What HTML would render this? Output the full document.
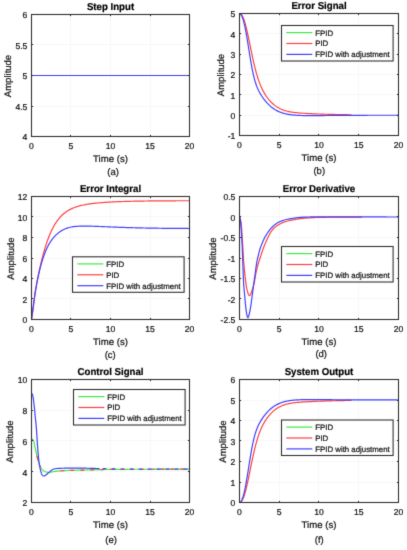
<!DOCTYPE html><html><head><meta charset="utf-8"><style>html,body{margin:0;padding:0;background:#fff}body{width:407px;height:550px;overflow:hidden}svg{display:block}text{font-family:'Liberation Sans', Arial, Helvetica, sans-serif;fill:#151515;stroke:#151515;stroke-width:0.22px;text-rendering:geometricPrecision}</style></head><body>
<div id="w">
<svg width="407" height="550" viewBox="0 0 407 550">
<defs><filter id="blr" x="0" y="0" width="407" height="550" filterUnits="userSpaceOnUse" color-interpolation-filters="sRGB"><feConvolveMatrix order="3" kernelMatrix="0.0121 0.0858 0.0121 0.0858 0.6084 0.0858 0.0121 0.0858 0.0121" divisor="1" edgeMode="duplicate"/></filter></defs>
<g filter="url(#blr)">
<rect width="407" height="550" fill="#fff"/>
<line x1="70.5" y1="15.0" x2="70.5" y2="136.0" stroke="#f7f7f7" stroke-width="1"/>
<line x1="110.5" y1="15.0" x2="110.5" y2="136.0" stroke="#f7f7f7" stroke-width="1"/>
<line x1="150.5" y1="15.0" x2="150.5" y2="136.0" stroke="#f7f7f7" stroke-width="1"/>
<line x1="32.0" y1="106.5" x2="189.0" y2="106.5" stroke="#f7f7f7" stroke-width="1"/>
<line x1="32.0" y1="75.5" x2="189.0" y2="75.5" stroke="#f7f7f7" stroke-width="1"/>
<line x1="32.0" y1="44.5" x2="189.0" y2="44.5" stroke="#f7f7f7" stroke-width="1"/>
<clipPath id="clipa"><rect x="31" y="14" width="159" height="123"/></clipPath>
<g clip-path="url(#clipa)" fill="none" stroke-width="1.2" stroke-linejoin="round" stroke-linecap="round">
<path d="M31.50,75.50 L189.50,75.50" stroke="#4040ff" />
</g>
<line x1="31.5" y1="136.5" x2="31.5" y2="134.9" stroke="#262626" stroke-width="1"/>
<line x1="31.5" y1="14.5" x2="31.5" y2="16.1" stroke="#262626" stroke-width="1"/>
<text x="31.50" y="148.80" font-size="8.6" text-anchor="middle">0</text>
<line x1="70.5" y1="136.5" x2="70.5" y2="134.9" stroke="#262626" stroke-width="1"/>
<line x1="70.5" y1="14.5" x2="70.5" y2="16.1" stroke="#262626" stroke-width="1"/>
<text x="71.00" y="148.80" font-size="8.6" text-anchor="middle">5</text>
<line x1="110.5" y1="136.5" x2="110.5" y2="134.9" stroke="#262626" stroke-width="1"/>
<line x1="110.5" y1="14.5" x2="110.5" y2="16.1" stroke="#262626" stroke-width="1"/>
<text x="110.50" y="148.80" font-size="8.6" text-anchor="middle">10</text>
<line x1="150.5" y1="136.5" x2="150.5" y2="134.9" stroke="#262626" stroke-width="1"/>
<line x1="150.5" y1="14.5" x2="150.5" y2="16.1" stroke="#262626" stroke-width="1"/>
<text x="150.00" y="148.80" font-size="8.6" text-anchor="middle">15</text>
<line x1="189.5" y1="136.5" x2="189.5" y2="134.9" stroke="#262626" stroke-width="1"/>
<line x1="189.5" y1="14.5" x2="189.5" y2="16.1" stroke="#262626" stroke-width="1"/>
<text x="189.50" y="148.80" font-size="8.6" text-anchor="middle">20</text>
<line x1="31.5" y1="136.5" x2="33.1" y2="136.5" stroke="#262626" stroke-width="1"/>
<line x1="189.5" y1="136.5" x2="187.9" y2="136.5" stroke="#262626" stroke-width="1"/>
<text x="27.40" y="140.40" font-size="8.6" text-anchor="end">4</text>
<line x1="31.5" y1="106.5" x2="33.1" y2="106.5" stroke="#262626" stroke-width="1"/>
<line x1="189.5" y1="106.5" x2="187.9" y2="106.5" stroke="#262626" stroke-width="1"/>
<text x="27.40" y="109.90" font-size="8.6" text-anchor="end">4.5</text>
<line x1="31.5" y1="75.5" x2="33.1" y2="75.5" stroke="#262626" stroke-width="1"/>
<line x1="189.5" y1="75.5" x2="187.9" y2="75.5" stroke="#262626" stroke-width="1"/>
<text x="27.40" y="79.40" font-size="8.6" text-anchor="end">5</text>
<line x1="31.5" y1="44.5" x2="33.1" y2="44.5" stroke="#262626" stroke-width="1"/>
<line x1="189.5" y1="44.5" x2="187.9" y2="44.5" stroke="#262626" stroke-width="1"/>
<text x="27.40" y="48.90" font-size="8.6" text-anchor="end">5.5</text>
<line x1="31.5" y1="14.5" x2="33.1" y2="14.5" stroke="#262626" stroke-width="1"/>
<line x1="189.5" y1="14.5" x2="187.9" y2="14.5" stroke="#262626" stroke-width="1"/>
<text x="27.40" y="18.40" font-size="8.6" text-anchor="end">6</text>
<rect x="31.5" y="14.5" width="158" height="122" fill="none" stroke="#323232" stroke-width="1.1"/>
<text transform="translate(110.50,10.40) scale(0.965,1)" font-size="10.0" font-weight="bold" text-anchor="middle" style="fill:#000;stroke:#000;stroke-width:0.2px">Step Input</text>
<text x="110.50" y="162.10" font-size="9.6" text-anchor="middle">Time (s)</text>
<text x="113.10" y="174.50" font-size="9.5" text-anchor="middle">(a)</text>
<text transform="translate(10.75,76.00) rotate(-90)" font-size="9.5" text-anchor="middle">Amplitude</text>
<line x1="279.5" y1="14.0" x2="279.5" y2="135.0" stroke="#f7f7f7" stroke-width="1"/>
<line x1="318.5" y1="14.0" x2="318.5" y2="135.0" stroke="#f7f7f7" stroke-width="1"/>
<line x1="358.5" y1="14.0" x2="358.5" y2="135.0" stroke="#f7f7f7" stroke-width="1"/>
<line x1="240.0" y1="115.5" x2="398.0" y2="115.5" stroke="#f7f7f7" stroke-width="1"/>
<line x1="240.0" y1="94.5" x2="398.0" y2="94.5" stroke="#f7f7f7" stroke-width="1"/>
<line x1="240.0" y1="74.5" x2="398.0" y2="74.5" stroke="#f7f7f7" stroke-width="1"/>
<line x1="240.0" y1="54.5" x2="398.0" y2="54.5" stroke="#f7f7f7" stroke-width="1"/>
<line x1="240.0" y1="33.5" x2="398.0" y2="33.5" stroke="#f7f7f7" stroke-width="1"/>
<clipPath id="clipb"><rect x="239" y="13" width="160" height="123"/></clipPath>
<g clip-path="url(#clipb)" fill="none" stroke-width="1.2" stroke-linejoin="round" stroke-linecap="round">
<path d="M239.50,13.50 L239.67,13.51 L239.84,13.53 L240.02,13.57 L240.19,13.63 L240.36,13.71 L240.53,13.80 L240.71,13.91 L240.88,14.04 L241.05,14.20 L241.22,14.36 L241.39,14.55 L241.57,14.76 L241.74,14.99 L241.91,15.24 L242.08,15.51 L242.26,15.79 L242.43,16.10 L242.60,16.43 L242.77,16.78 L242.95,17.14 L243.12,17.53 L243.29,17.93 L243.46,18.36 L243.63,18.80 L243.81,19.27 L243.98,19.75 L244.15,20.25 L244.32,20.76 L244.50,21.30 L244.67,21.85 L244.84,22.42 L245.01,23.00 L245.18,23.60 L245.36,24.22 L245.53,24.85 L245.70,25.50 L245.87,26.16 L246.05,26.84 L246.22,27.53 L246.39,28.23 L246.56,28.95 L246.74,29.67 L246.91,30.41 L247.08,31.16 L247.25,31.92 L247.42,32.69 L247.60,33.47 L247.77,34.25 L247.94,35.05 L248.11,35.85 L248.29,36.66 L248.46,37.47 L248.63,38.29 L248.80,39.12 L248.97,39.95 L249.15,40.78 L249.32,41.62 L249.49,42.46 L249.66,43.30 L249.84,44.15 L250.01,44.99 L250.18,45.84 L250.35,46.68 L250.53,47.53 L250.70,48.37 L250.87,49.21 L251.04,50.05 L251.21,50.89 L251.39,51.72 L251.56,52.55 L251.73,53.38 L251.90,54.21 L252.08,55.02 L252.25,55.84 L252.42,56.65 L252.59,57.45 L252.76,58.24 L252.94,59.03 L253.11,59.82 L253.28,60.59 L253.45,61.36 L253.63,62.12 L253.80,62.88 L253.97,63.62 L254.14,64.36 L254.32,65.09 L254.49,65.81 L254.66,66.52 L254.83,67.22 L255.00,67.92 L255.18,68.60 L255.35,69.28 L255.52,69.95 L255.69,70.60 L255.87,71.25 L256.04,71.89 L256.21,72.52 L256.38,73.14 L256.55,73.75 L256.73,74.35 L256.90,74.94 L257.07,75.53 L257.24,76.10 L257.42,76.67 L257.59,77.22 L257.76,77.77 L257.93,78.31 L258.11,78.83 L258.28,79.35 L258.45,79.87 L258.62,80.37 L258.79,80.86 L258.97,81.35 L259.14,81.83 L259.31,82.30 L259.48,82.76 L259.66,83.21 L259.83,83.66 L260.00,84.10 L260.20,84.60 L260.70,85.82 L261.21,86.98 L261.71,88.08 L262.22,89.14 L262.72,90.14 L263.22,91.11 L263.73,92.03 L264.23,92.91 L264.73,93.75 L265.24,94.57 L265.74,95.35 L266.25,96.10 L266.75,96.82 L267.25,97.51 L267.76,98.18 L268.26,98.83 L268.76,99.45 L269.27,100.05 L269.77,100.63 L270.28,101.19 L270.78,101.73 L271.28,102.25 L271.79,102.75 L272.29,103.23 L272.79,103.69 L273.30,104.14 L273.80,104.57 L274.31,104.98 L274.81,105.38 L275.31,105.76 L275.82,106.13 L276.32,106.48 L276.83,106.81 L277.33,107.14 L277.83,107.44 L278.34,107.74 L278.84,108.02 L279.34,108.29 L279.85,108.55 L280.35,108.80 L280.86,109.03 L281.36,109.26 L281.86,109.47 L282.37,109.68 L282.87,109.87 L283.37,110.06 L283.88,110.23 L284.38,110.40 L284.89,110.56 L285.39,110.71 L285.89,110.86 L286.40,110.99 L286.90,111.13 L287.41,111.25 L287.91,111.37 L288.41,111.48 L288.92,111.59 L289.42,111.69 L289.92,111.79 L290.43,111.88 L290.93,111.97 L291.44,112.05 L291.94,112.13 L292.44,112.21 L292.95,112.28 L293.45,112.35 L293.95,112.42 L294.46,112.48 L294.96,112.54 L295.47,112.60 L295.97,112.65 L296.47,112.71 L296.98,112.76 L297.48,112.81 L297.98,112.85 L298.49,112.90 L298.99,112.94 L299.50,112.98 L300.00,113.02 L301.00,113.10 L303.50,113.27 L306.00,113.42 L308.50,113.55 L311.00,113.67 L313.50,113.78 L316.00,113.89 L318.50,113.98 L321.00,114.07 L323.50,114.16 L326.00,114.24 L328.50,114.31 L331.00,114.38 L333.50,114.45 L336.00,114.51 L338.50,114.57 L341.00,114.62 L343.50,114.67 L346.00,114.72 L348.50,114.76 L351.00,114.80" stroke="#ff4040" />
<path d="M239.50,13.50 L239.67,13.54 L239.84,13.61 L240.02,13.71 L240.19,13.83 L240.36,13.98 L240.53,14.15 L240.71,14.34 L240.88,14.56 L241.05,14.80 L241.22,15.06 L241.39,15.35 L241.57,15.66 L241.74,16.00 L241.91,16.36 L242.08,16.74 L242.26,17.16 L242.43,17.59 L242.60,18.05 L242.77,18.54 L242.95,19.05 L243.12,19.59 L243.29,20.16 L243.46,20.75 L243.63,21.36 L243.81,22.01 L243.98,22.67 L244.15,23.36 L244.32,24.08 L244.50,24.82 L244.67,25.59 L244.84,26.38 L245.01,27.19 L245.18,28.02 L245.36,28.88 L245.53,29.76 L245.70,30.66 L245.87,31.57 L246.05,32.51 L246.22,33.46 L246.39,34.43 L246.56,35.42 L246.74,36.42 L246.91,37.43 L247.08,38.46 L247.25,39.50 L247.42,40.55 L247.60,41.61 L247.77,42.67 L247.94,43.75 L248.11,44.82 L248.29,45.91 L248.46,46.99 L248.63,48.08 L248.80,49.16 L248.97,50.25 L249.15,51.33 L249.32,52.42 L249.49,53.49 L249.66,54.56 L249.84,55.63 L250.01,56.69 L250.18,57.73 L250.35,58.77 L250.53,59.80 L250.70,60.82 L250.87,61.82 L251.04,62.81 L251.21,63.79 L251.39,64.76 L251.56,65.70 L251.73,66.64 L251.90,67.55 L252.08,68.45 L252.25,69.33 L252.42,70.20 L252.59,71.05 L252.76,71.88 L252.94,72.69 L253.11,73.48 L253.28,74.25 L253.45,75.01 L253.63,75.75 L253.80,76.47 L253.97,77.17 L254.14,77.86 L254.32,78.52 L254.49,79.17 L254.66,79.81 L254.83,80.42 L255.00,81.02 L255.18,81.61 L255.35,82.17 L255.52,82.73 L255.69,83.26 L255.87,83.79 L256.04,84.30 L256.21,84.79 L256.38,85.27 L256.55,85.74 L256.73,86.20 L256.90,86.65 L257.07,87.08 L257.24,87.51 L257.42,87.92 L257.59,88.33 L257.76,88.72 L257.93,89.11 L258.11,89.49 L258.28,89.86 L258.45,90.22 L258.62,90.57 L258.79,90.92 L258.97,91.26 L259.14,91.59 L259.31,91.92 L259.48,92.24 L259.66,92.56 L259.83,92.87 L260.00,93.17 L260.20,93.52 L260.70,94.37 L261.21,95.19 L261.71,95.98 L262.22,96.74 L262.72,97.47 L263.22,98.18 L263.73,98.87 L264.23,99.54 L264.73,100.18 L265.24,100.81 L265.74,101.42 L266.25,102.01 L266.75,102.58 L267.25,103.13 L267.76,103.66 L268.26,104.18 L268.76,104.68 L269.27,105.17 L269.77,105.63 L270.28,106.08 L270.78,106.52 L271.28,106.94 L271.79,107.34 L272.29,107.73 L272.79,108.11 L273.30,108.47 L273.80,108.81 L274.31,109.15 L274.81,109.47 L275.31,109.78 L275.82,110.07 L276.32,110.35 L276.83,110.62 L277.33,110.88 L277.83,111.13 L278.34,111.37 L278.84,111.60 L279.34,111.82 L279.85,112.02 L280.35,112.22 L280.86,112.41 L281.36,112.59 L281.86,112.77 L282.37,112.93 L282.87,113.09 L283.37,113.24 L283.88,113.38 L284.38,113.52 L284.89,113.64 L285.39,113.77 L285.89,113.88 L286.40,113.99 L286.90,114.10 L287.41,114.20 L287.91,114.29 L288.41,114.38 L288.92,114.46 L289.42,114.54 L289.92,114.62 L290.43,114.69 L290.93,114.75 L291.44,114.82 L291.94,114.87 L292.44,114.93 L292.95,114.98 L293.45,115.03 L293.95,115.08 L294.46,115.12 L294.96,115.16 L295.47,115.20 L295.97,115.24 L296.47,115.27 L296.98,115.30 L297.48,115.33 L297.98,115.36 L298.49,115.38 L298.99,115.40 L299.50,115.43 L300.00,115.45 L301.00,115.48 L303.50,115.55 L306.00,115.58 L308.50,115.60 L311.00,115.61 L313.50,115.61 L316.00,115.60 L318.50,115.58 L321.00,115.56 L323.50,115.54 L326.00,115.52 L328.50,115.50 L331.00,115.48 L333.50,115.46 L336.00,115.44 L338.50,115.42 L341.00,115.40 L343.50,115.39 L346.00,115.37 L348.50,115.36 L351.00,115.34 L353.50,115.33 L356.00,115.32 L358.50,115.31 L361.00,115.30 L363.50,115.29 L366.00,115.28 L368.50,115.27 L371.00,115.27 L373.50,115.26 L376.00,115.26 L378.50,115.25 L381.00,115.25 L383.50,115.24 L386.00,115.24 L388.50,115.23 L391.00,115.23 L393.50,115.23 L396.00,115.23 L398.50,115.22" stroke="#4040ff" />
</g>
<line x1="239.5" y1="135.5" x2="239.5" y2="133.9" stroke="#262626" stroke-width="1"/>
<line x1="239.5" y1="13.5" x2="239.5" y2="15.1" stroke="#262626" stroke-width="1"/>
<text x="239.50" y="147.80" font-size="8.6" text-anchor="middle">0</text>
<line x1="279.5" y1="135.5" x2="279.5" y2="133.9" stroke="#262626" stroke-width="1"/>
<line x1="279.5" y1="13.5" x2="279.5" y2="15.1" stroke="#262626" stroke-width="1"/>
<text x="279.25" y="147.80" font-size="8.6" text-anchor="middle">5</text>
<line x1="318.5" y1="135.5" x2="318.5" y2="133.9" stroke="#262626" stroke-width="1"/>
<line x1="318.5" y1="13.5" x2="318.5" y2="15.1" stroke="#262626" stroke-width="1"/>
<text x="319.00" y="147.80" font-size="8.6" text-anchor="middle">10</text>
<line x1="358.5" y1="135.5" x2="358.5" y2="133.9" stroke="#262626" stroke-width="1"/>
<line x1="358.5" y1="13.5" x2="358.5" y2="15.1" stroke="#262626" stroke-width="1"/>
<text x="358.75" y="147.80" font-size="8.6" text-anchor="middle">15</text>
<line x1="398.5" y1="135.5" x2="398.5" y2="133.9" stroke="#262626" stroke-width="1"/>
<line x1="398.5" y1="13.5" x2="398.5" y2="15.1" stroke="#262626" stroke-width="1"/>
<text x="398.50" y="147.80" font-size="8.6" text-anchor="middle">20</text>
<line x1="239.5" y1="135.5" x2="241.1" y2="135.5" stroke="#262626" stroke-width="1"/>
<line x1="398.5" y1="135.5" x2="396.9" y2="135.5" stroke="#262626" stroke-width="1"/>
<text x="235.40" y="139.40" font-size="8.6" text-anchor="end">-1</text>
<line x1="239.5" y1="115.5" x2="241.1" y2="115.5" stroke="#262626" stroke-width="1"/>
<line x1="398.5" y1="115.5" x2="396.9" y2="115.5" stroke="#262626" stroke-width="1"/>
<text x="235.40" y="119.07" font-size="8.6" text-anchor="end">0</text>
<line x1="239.5" y1="94.5" x2="241.1" y2="94.5" stroke="#262626" stroke-width="1"/>
<line x1="398.5" y1="94.5" x2="396.9" y2="94.5" stroke="#262626" stroke-width="1"/>
<text x="235.40" y="98.73" font-size="8.6" text-anchor="end">1</text>
<line x1="239.5" y1="74.5" x2="241.1" y2="74.5" stroke="#262626" stroke-width="1"/>
<line x1="398.5" y1="74.5" x2="396.9" y2="74.5" stroke="#262626" stroke-width="1"/>
<text x="235.40" y="78.40" font-size="8.6" text-anchor="end">2</text>
<line x1="239.5" y1="54.5" x2="241.1" y2="54.5" stroke="#262626" stroke-width="1"/>
<line x1="398.5" y1="54.5" x2="396.9" y2="54.5" stroke="#262626" stroke-width="1"/>
<text x="235.40" y="58.07" font-size="8.6" text-anchor="end">3</text>
<line x1="239.5" y1="33.5" x2="241.1" y2="33.5" stroke="#262626" stroke-width="1"/>
<line x1="398.5" y1="33.5" x2="396.9" y2="33.5" stroke="#262626" stroke-width="1"/>
<text x="235.40" y="37.73" font-size="8.6" text-anchor="end">4</text>
<line x1="239.5" y1="13.5" x2="241.1" y2="13.5" stroke="#262626" stroke-width="1"/>
<line x1="398.5" y1="13.5" x2="396.9" y2="13.5" stroke="#262626" stroke-width="1"/>
<text x="235.40" y="17.40" font-size="8.6" text-anchor="end">5</text>
<rect x="239.5" y="13.5" width="159" height="122" fill="none" stroke="#323232" stroke-width="1.1"/>
<text transform="translate(319.00,9.40) scale(0.965,1)" font-size="10.0" font-weight="bold" text-anchor="middle" style="fill:#000;stroke:#000;stroke-width:0.2px">Error Signal</text>
<text x="319.00" y="161.10" font-size="9.6" text-anchor="middle">Time (s)</text>
<text x="319.25" y="174.35" font-size="9.5" text-anchor="middle">(b)</text>
<text transform="translate(223.50,75.00) rotate(-90)" font-size="9.5" text-anchor="middle">Amplitude</text>
<rect x="281.5" y="25.5" width="111.6" height="35.5" fill="#fff" stroke="#323232" stroke-width="1.1"/>
<line x1="286.3" y1="32.60" x2="312.3" y2="32.60" stroke="#40ea40" stroke-width="1.2"/>
<text x="315.20" y="35.50" font-size="7.85">FPID</text>
<line x1="286.3" y1="43.50" x2="312.3" y2="43.50" stroke="#ff4040" stroke-width="1.2"/>
<text x="315.20" y="46.40" font-size="7.85">PID</text>
<line x1="286.3" y1="54.40" x2="312.3" y2="54.40" stroke="#4040ff" stroke-width="1.2"/>
<text x="315.20" y="57.30" font-size="7.85">FPID with adjustment</text>
<line x1="70.5" y1="197.0" x2="70.5" y2="319.0" stroke="#f7f7f7" stroke-width="1"/>
<line x1="110.5" y1="197.0" x2="110.5" y2="319.0" stroke="#f7f7f7" stroke-width="1"/>
<line x1="150.5" y1="197.0" x2="150.5" y2="319.0" stroke="#f7f7f7" stroke-width="1"/>
<line x1="32.0" y1="298.5" x2="189.0" y2="298.5" stroke="#f7f7f7" stroke-width="1"/>
<line x1="32.0" y1="278.5" x2="189.0" y2="278.5" stroke="#f7f7f7" stroke-width="1"/>
<line x1="32.0" y1="258.5" x2="189.0" y2="258.5" stroke="#f7f7f7" stroke-width="1"/>
<line x1="32.0" y1="237.5" x2="189.0" y2="237.5" stroke="#f7f7f7" stroke-width="1"/>
<line x1="32.0" y1="216.5" x2="189.0" y2="216.5" stroke="#f7f7f7" stroke-width="1"/>
<clipPath id="clipc"><rect x="31" y="196" width="159" height="124"/></clipPath>
<g clip-path="url(#clipc)" fill="none" stroke-width="1.2" stroke-linejoin="round" stroke-linecap="round">
<path d="M31.50,319.50 L31.69,318.26 L31.88,317.06 L32.07,315.86 L32.27,314.67 L32.46,313.46 L32.65,312.23 L32.84,310.96 L33.03,309.63 L33.22,308.23 L33.41,306.76 L33.60,305.21 L33.80,303.59 L33.99,301.90 L34.18,300.19 L34.37,298.47 L34.56,296.80 L34.75,295.19 L34.94,293.69 L35.13,292.29 L35.33,291.00 L35.52,289.80 L35.71,288.67 L35.90,287.59 L36.09,286.55 L36.28,285.52 L36.47,284.51 L36.66,283.51 L36.86,282.51 L37.05,281.53 L37.24,280.55 L37.43,279.58 L37.62,278.62 L37.81,277.67 L38.00,276.73 L38.19,275.79 L38.39,274.86 L38.58,273.95 L38.77,273.04 L38.96,272.14 L39.15,271.24 L39.34,270.36 L39.53,269.48 L39.72,268.62 L39.92,267.76 L40.11,266.91 L40.30,266.07 L40.49,265.24 L40.68,264.42 L40.87,263.60 L41.06,262.80 L41.26,262.00 L41.45,261.21 L41.64,260.43 L41.83,259.66 L42.02,258.89 L42.21,258.14 L42.40,257.39 L42.59,256.65 L42.79,255.93 L42.98,255.20 L43.17,254.49 L43.36,253.79 L43.55,253.09 L43.74,252.40 L43.93,251.72 L44.12,251.05 L44.32,250.38 L44.51,249.73 L44.70,249.08 L44.89,248.44 L45.08,247.80 L45.27,247.18 L45.46,246.56 L45.65,245.95 L45.85,245.35 L46.04,244.75 L46.23,244.17 L46.42,243.59 L46.61,243.01 L46.80,242.45 L46.99,241.89 L47.18,241.34 L47.38,240.79 L47.57,240.26 L47.76,239.73 L47.95,239.20 L48.14,238.69 L48.33,238.18 L48.52,237.67 L48.71,237.18 L48.91,236.69 L49.10,236.20 L49.29,235.73 L49.48,235.26 L49.67,234.79 L49.86,234.33 L50.05,233.88 L50.24,233.44 L50.44,233.00 L50.63,232.56 L50.82,232.13 L51.01,231.71 L51.20,231.29 L51.39,230.88 L51.58,230.48 L51.78,230.08 L51.97,229.69 L52.16,229.30 L52.35,228.91 L52.54,228.54 L52.73,228.16 L52.92,227.80 L53.11,227.43 L53.31,227.08 L53.50,226.72 L53.69,226.38 L53.88,226.03 L54.07,225.70 L54.26,225.36 L54.45,225.04 L54.64,224.71 L54.84,224.39 L55.03,224.08 L55.22,223.77 L55.41,223.46 L55.60,223.16 L55.79,222.86 L55.98,222.57 L56.17,222.28 L56.37,222.00 L56.56,221.72 L56.75,221.44 L56.94,221.17 L57.13,220.90 L57.32,220.64 L57.51,220.38 L57.70,220.12 L57.90,219.87 L58.09,219.62 L58.28,219.37 L58.47,219.13 L58.66,218.89 L58.85,218.66 L59.04,218.42 L59.23,218.19 L59.43,217.97 L59.62,217.75 L59.81,217.53 L60.00,217.31 L60.30,216.98 L61.30,215.93 L62.30,214.95 L63.30,214.05 L64.31,213.21 L65.31,212.44 L66.31,211.72 L67.31,211.05 L68.31,210.44 L69.31,209.86 L70.32,209.33 L71.32,208.84 L72.32,208.38 L73.32,207.96 L74.32,207.56 L75.32,207.19 L76.32,206.85 L77.33,206.53 L78.33,206.23 L79.33,205.95 L80.33,205.69 L81.33,205.45 L82.33,205.22 L83.34,205.00 L84.34,204.80 L85.34,204.61 L86.34,204.43 L87.34,204.26 L88.34,204.10 L89.34,203.95 L90.35,203.81 L91.35,203.68 L92.35,203.55 L93.35,203.43 L94.35,203.31 L95.35,203.20 L96.36,203.10 L97.36,203.00 L98.36,202.90 L99.36,202.81 L100.36,202.73 L101.36,202.64 L102.37,202.56 L103.37,202.49 L104.37,202.42 L105.37,202.35 L106.37,202.28 L107.37,202.22 L108.37,202.16 L109.38,202.10 L110.38,202.04 L111.38,201.99 L112.38,201.94 L113.38,201.89 L114.38,201.84 L115.39,201.79 L116.39,201.75 L117.39,201.71 L118.39,201.66 L119.39,201.63 L120.39,201.59 L121.39,201.55 L122.40,201.52 L123.40,201.48 L124.40,201.45 L125.40,201.42 L126.40,201.39 L127.40,201.36 L128.41,201.33 L129.41,201.31 L130.41,201.28 L131.41,201.26 L132.41,201.24 L133.41,201.21 L134.41,201.19 L135.42,201.17 L136.42,201.15 L137.42,201.13 L138.42,201.11 L139.42,201.10 L140.42,201.08 L141.43,201.06 L142.43,201.05 L143.43,201.03 L144.43,201.02 L145.43,201.00 L146.43,200.99 L147.43,200.98 L148.44,200.97 L149.44,200.95 L150.44,200.94 L151.44,200.93 L152.44,200.92 L153.44,200.91 L154.45,200.90 L155.45,200.89 L156.45,200.89 L157.45,200.88 L158.45,200.87 L159.45,200.86 L160.46,200.86 L161.46,200.85 L162.46,200.84 L163.46,200.84 L164.46,200.83 L165.46,200.82 L166.46,200.82 L167.47,200.81 L168.47,200.81 L169.47,200.80 L170.47,200.80 L171.47,200.79 L172.47,200.79 L173.48,200.79 L174.48,200.78 L175.48,200.78 L176.48,200.77 L177.48,200.77 L178.48,200.77 L179.48,200.76 L180.49,200.76 L181.49,200.76 L182.49,200.76 L183.49,200.75 L184.49,200.75 L185.49,200.75 L186.50,200.75 L187.50,200.74 L188.50,200.74 L189.50,200.74" stroke="#ff4040" />
<path d="M31.50,319.50 L31.69,318.04 L31.88,316.53 L32.07,315.03 L32.27,313.54 L32.46,312.06 L32.65,310.60 L32.84,309.16 L33.03,307.74 L33.22,306.33 L33.41,304.95 L33.60,303.58 L33.80,302.24 L33.99,300.92 L34.18,299.61 L34.37,298.33 L34.56,297.07 L34.75,295.82 L34.94,294.60 L35.13,293.40 L35.33,292.22 L35.52,291.05 L35.71,289.91 L35.90,288.78 L36.09,287.67 L36.28,286.59 L36.47,285.52 L36.66,284.46 L36.86,283.43 L37.05,282.41 L37.24,281.41 L37.43,280.43 L37.62,279.47 L37.81,278.52 L38.00,277.59 L38.19,276.67 L38.39,275.77 L38.58,274.88 L38.77,274.01 L38.96,273.16 L39.15,272.32 L39.34,271.49 L39.53,270.68 L39.72,269.89 L39.92,269.10 L40.11,268.33 L40.30,267.58 L40.49,266.84 L40.68,266.11 L40.87,265.39 L41.06,264.69 L41.26,264.00 L41.45,263.32 L41.64,262.65 L41.83,261.99 L42.02,261.35 L42.21,260.72 L42.40,260.09 L42.59,259.48 L42.79,258.88 L42.98,258.29 L43.17,257.71 L43.36,257.15 L43.55,256.59 L43.74,256.04 L43.93,255.50 L44.12,254.97 L44.32,254.45 L44.51,253.94 L44.70,253.43 L44.89,252.94 L45.08,252.45 L45.27,251.98 L45.46,251.51 L45.65,251.05 L45.85,250.60 L46.04,250.15 L46.23,249.72 L46.42,249.29 L46.61,248.87 L46.80,248.45 L46.99,248.04 L47.18,247.64 L47.38,247.25 L47.57,246.87 L47.76,246.49 L47.95,246.11 L48.14,245.75 L48.33,245.39 L48.52,245.03 L48.71,244.68 L48.91,244.34 L49.10,244.01 L49.29,243.68 L49.48,243.35 L49.67,243.03 L49.86,242.72 L50.05,242.41 L50.24,242.10 L50.44,241.81 L50.63,241.51 L50.82,241.22 L51.01,240.94 L51.20,240.66 L51.39,240.39 L51.58,240.12 L51.78,239.85 L51.97,239.59 L52.16,239.33 L52.35,239.08 L52.54,238.83 L52.73,238.59 L52.92,238.35 L53.11,238.11 L53.31,237.88 L53.50,237.65 L53.69,237.43 L53.88,237.20 L54.07,236.99 L54.26,236.77 L54.45,236.56 L54.64,236.35 L54.84,236.15 L55.03,235.95 L55.22,235.75 L55.41,235.56 L55.60,235.36 L55.79,235.18 L55.98,234.99 L56.17,234.81 L56.37,234.63 L56.56,234.45 L56.75,234.28 L56.94,234.10 L57.13,233.94 L57.32,233.77 L57.51,233.61 L57.70,233.45 L57.90,233.29 L58.09,233.13 L58.28,232.98 L58.47,232.83 L58.66,232.68 L58.85,232.53 L59.04,232.39 L59.23,232.25 L59.43,232.11 L59.62,231.97 L59.81,231.84 L60.00,231.70 L60.30,231.50 L61.30,230.86 L62.30,230.27 L63.30,229.74 L64.31,229.25 L65.31,228.81 L66.31,228.42 L67.31,228.07 L68.31,227.75 L69.31,227.48 L70.32,227.24 L71.32,227.03 L72.32,226.85 L73.32,226.70 L74.32,226.57 L75.32,226.46 L76.32,226.37 L77.33,226.29 L78.33,226.23 L79.33,226.19 L80.33,226.15 L81.33,226.12 L82.33,226.11 L83.34,226.10 L84.34,226.09 L85.34,226.09 L86.34,226.10 L87.34,226.11 L88.34,226.13 L89.34,226.15 L90.35,226.17 L91.35,226.20 L92.35,226.23 L93.35,226.26 L94.35,226.29 L95.35,226.33 L96.36,226.36 L97.36,226.40 L98.36,226.44 L99.36,226.48 L100.36,226.52 L101.36,226.56 L102.37,226.60 L103.37,226.64 L104.37,226.69 L105.37,226.73 L106.37,226.77 L107.37,226.81 L108.37,226.86 L109.38,226.90 L110.38,226.94 L111.38,226.98 L112.38,227.02 L113.38,227.06 L114.38,227.10 L115.39,227.14 L116.39,227.18 L117.39,227.22 L118.39,227.26 L119.39,227.29 L120.39,227.33 L121.39,227.37 L122.40,227.40 L123.40,227.44 L124.40,227.47 L125.40,227.50 L126.40,227.53 L127.40,227.57 L128.41,227.60 L129.41,227.63 L130.41,227.66 L131.41,227.69 L132.41,227.71 L133.41,227.74 L134.41,227.77 L135.42,227.79 L136.42,227.82 L137.42,227.84 L138.42,227.87 L139.42,227.89 L140.42,227.92 L141.43,227.94 L142.43,227.96 L143.43,227.98 L144.43,228.00 L145.43,228.02 L146.43,228.04 L147.43,228.06 L148.44,228.08 L149.44,228.09 L150.44,228.11 L151.44,228.13 L152.44,228.14 L153.44,228.16 L154.45,228.18 L155.45,228.19 L156.45,228.20 L157.45,228.22 L158.45,228.23 L159.45,228.24 L160.46,228.26 L161.46,228.27 L162.46,228.28 L163.46,228.29 L164.46,228.30 L165.46,228.31 L166.46,228.32 L167.47,228.33 L168.47,228.34 L169.47,228.35 L170.47,228.36 L171.47,228.37 L172.47,228.38 L173.48,228.39 L174.48,228.39 L175.48,228.40 L176.48,228.41 L177.48,228.42 L178.48,228.42 L179.48,228.43 L180.49,228.44 L181.49,228.44 L182.49,228.45 L183.49,228.45 L184.49,228.46 L185.49,228.46 L186.50,228.47 L187.50,228.47 L188.50,228.48 L189.50,228.48" stroke="#4040ff" />
</g>
<line x1="31.5" y1="319.5" x2="31.5" y2="317.9" stroke="#262626" stroke-width="1"/>
<line x1="31.5" y1="196.5" x2="31.5" y2="198.1" stroke="#262626" stroke-width="1"/>
<text x="31.50" y="331.80" font-size="8.6" text-anchor="middle">0</text>
<line x1="70.5" y1="319.5" x2="70.5" y2="317.9" stroke="#262626" stroke-width="1"/>
<line x1="70.5" y1="196.5" x2="70.5" y2="198.1" stroke="#262626" stroke-width="1"/>
<text x="71.00" y="331.80" font-size="8.6" text-anchor="middle">5</text>
<line x1="110.5" y1="319.5" x2="110.5" y2="317.9" stroke="#262626" stroke-width="1"/>
<line x1="110.5" y1="196.5" x2="110.5" y2="198.1" stroke="#262626" stroke-width="1"/>
<text x="110.50" y="331.80" font-size="8.6" text-anchor="middle">10</text>
<line x1="150.5" y1="319.5" x2="150.5" y2="317.9" stroke="#262626" stroke-width="1"/>
<line x1="150.5" y1="196.5" x2="150.5" y2="198.1" stroke="#262626" stroke-width="1"/>
<text x="150.00" y="331.80" font-size="8.6" text-anchor="middle">15</text>
<line x1="189.5" y1="319.5" x2="189.5" y2="317.9" stroke="#262626" stroke-width="1"/>
<line x1="189.5" y1="196.5" x2="189.5" y2="198.1" stroke="#262626" stroke-width="1"/>
<text x="189.50" y="331.80" font-size="8.6" text-anchor="middle">20</text>
<line x1="31.5" y1="319.5" x2="33.1" y2="319.5" stroke="#262626" stroke-width="1"/>
<line x1="189.5" y1="319.5" x2="187.9" y2="319.5" stroke="#262626" stroke-width="1"/>
<text x="27.40" y="323.40" font-size="8.6" text-anchor="end">0</text>
<line x1="31.5" y1="298.5" x2="33.1" y2="298.5" stroke="#262626" stroke-width="1"/>
<line x1="189.5" y1="298.5" x2="187.9" y2="298.5" stroke="#262626" stroke-width="1"/>
<text x="27.40" y="302.90" font-size="8.6" text-anchor="end">2</text>
<line x1="31.5" y1="278.5" x2="33.1" y2="278.5" stroke="#262626" stroke-width="1"/>
<line x1="189.5" y1="278.5" x2="187.9" y2="278.5" stroke="#262626" stroke-width="1"/>
<text x="27.40" y="282.40" font-size="8.6" text-anchor="end">4</text>
<line x1="31.5" y1="258.5" x2="33.1" y2="258.5" stroke="#262626" stroke-width="1"/>
<line x1="189.5" y1="258.5" x2="187.9" y2="258.5" stroke="#262626" stroke-width="1"/>
<text x="27.40" y="261.90" font-size="8.6" text-anchor="end">6</text>
<line x1="31.5" y1="237.5" x2="33.1" y2="237.5" stroke="#262626" stroke-width="1"/>
<line x1="189.5" y1="237.5" x2="187.9" y2="237.5" stroke="#262626" stroke-width="1"/>
<text x="27.40" y="241.40" font-size="8.6" text-anchor="end">8</text>
<line x1="31.5" y1="216.5" x2="33.1" y2="216.5" stroke="#262626" stroke-width="1"/>
<line x1="189.5" y1="216.5" x2="187.9" y2="216.5" stroke="#262626" stroke-width="1"/>
<text x="27.40" y="220.90" font-size="8.6" text-anchor="end">10</text>
<line x1="31.5" y1="196.5" x2="33.1" y2="196.5" stroke="#262626" stroke-width="1"/>
<line x1="189.5" y1="196.5" x2="187.9" y2="196.5" stroke="#262626" stroke-width="1"/>
<text x="27.40" y="200.40" font-size="8.6" text-anchor="end">12</text>
<rect x="31.5" y="196.5" width="158" height="123" fill="none" stroke="#323232" stroke-width="1.1"/>
<text transform="translate(110.50,192.40) scale(0.965,1)" font-size="10.0" font-weight="bold" text-anchor="middle" style="fill:#000;stroke:#000;stroke-width:0.2px">Error Integral</text>
<text x="110.50" y="345.10" font-size="9.6" text-anchor="middle">Time (s)</text>
<text x="110.20" y="357.60" font-size="9.5" text-anchor="middle">(c)</text>
<text transform="translate(13.60,258.50) rotate(-90)" font-size="9.5" text-anchor="middle">Amplitude</text>
<rect x="72.5" y="256.8" width="111.6" height="35.5" fill="#fff" stroke="#323232" stroke-width="1.1"/>
<line x1="77.3" y1="263.90" x2="103.3" y2="263.90" stroke="#40ea40" stroke-width="1.2"/>
<text x="106.20" y="266.80" font-size="7.85">FPID</text>
<line x1="77.3" y1="274.80" x2="103.3" y2="274.80" stroke="#ff4040" stroke-width="1.2"/>
<text x="106.20" y="277.70" font-size="7.85">PID</text>
<line x1="77.3" y1="285.70" x2="103.3" y2="285.70" stroke="#4040ff" stroke-width="1.2"/>
<text x="106.20" y="288.60" font-size="7.85">FPID with adjustment</text>
<line x1="279.5" y1="197.0" x2="279.5" y2="319.0" stroke="#f7f7f7" stroke-width="1"/>
<line x1="318.5" y1="197.0" x2="318.5" y2="319.0" stroke="#f7f7f7" stroke-width="1"/>
<line x1="358.5" y1="197.0" x2="358.5" y2="319.0" stroke="#f7f7f7" stroke-width="1"/>
<line x1="240.0" y1="298.5" x2="398.0" y2="298.5" stroke="#f7f7f7" stroke-width="1"/>
<line x1="240.0" y1="278.5" x2="398.0" y2="278.5" stroke="#f7f7f7" stroke-width="1"/>
<line x1="240.0" y1="258.5" x2="398.0" y2="258.5" stroke="#f7f7f7" stroke-width="1"/>
<line x1="240.0" y1="237.5" x2="398.0" y2="237.5" stroke="#f7f7f7" stroke-width="1"/>
<line x1="240.0" y1="216.5" x2="398.0" y2="216.5" stroke="#f7f7f7" stroke-width="1"/>
<clipPath id="clipd"><rect x="239" y="196" width="160" height="124"/></clipPath>
<g clip-path="url(#clipd)" fill="none" stroke-width="1.2" stroke-linejoin="round" stroke-linecap="round">
<path d="M239.50,217.00 L239.93,217.92 L240.21,218.85 L240.46,219.82 L240.66,220.80 L240.83,221.78 L240.98,222.77 L241.12,223.76 L241.24,224.75 L241.35,225.75 L241.46,226.74 L241.55,227.74 L241.64,228.73 L241.71,229.73 L241.78,230.73 L241.84,231.73 L241.90,232.73 L241.96,233.72 L242.02,234.72 L242.08,235.72 L242.14,236.72 L242.21,237.72 L242.27,238.71 L242.34,239.71 L242.41,240.71 L242.47,241.71 L242.54,242.71 L242.61,243.70 L242.67,244.70 L242.74,245.70 L242.80,246.70 L242.86,247.69 L242.92,248.69 L242.98,249.69 L243.04,250.69 L243.09,251.69 L243.14,252.69 L243.19,253.69 L243.24,254.68 L243.28,255.68 L243.33,256.68 L243.38,257.68 L243.43,258.68 L243.49,259.68 L243.55,260.68 L243.62,261.67 L243.70,262.67 L243.79,263.67 L243.88,264.66 L243.99,265.66 L244.09,266.65 L244.20,267.65 L244.30,268.64 L244.40,269.64 L244.50,270.63 L244.59,271.63 L244.69,272.62 L244.79,273.62 L244.89,274.61 L245.00,275.61 L245.11,276.60 L245.22,277.59 L245.33,278.59 L245.45,279.58 L245.57,280.57 L245.69,281.56 L245.83,282.56 L245.96,283.55 L246.10,284.54 L246.24,285.53 L246.39,286.52 L246.55,287.50 L246.73,288.49 L246.94,289.46 L247.18,290.43 L247.44,291.40 L247.73,292.36 L248.02,293.31 L248.34,294.25 L248.76,295.10 L249.31,295.59 L249.93,295.40 L250.44,294.68 L250.84,293.78 L251.18,292.84 L251.51,291.90 L251.84,290.95 L252.15,290.00 L252.45,289.05 L252.75,288.10 L253.04,287.14 L253.33,286.18 L253.60,285.22 L253.86,284.25 L254.10,283.28 L254.32,282.31 L254.52,281.33 L254.70,280.35 L254.86,279.36 L255.02,278.37 L255.17,277.38 L255.33,276.40 L255.50,275.41 L255.69,274.43 L255.89,273.45 L256.09,272.47 L256.30,271.49 L256.52,270.52 L256.74,269.54 L256.97,268.57 L257.21,267.60 L257.46,266.63 L257.72,265.66 L257.99,264.70 L258.27,263.74 L258.57,262.78 L258.87,261.83 L259.17,260.88 L259.47,259.93 L259.78,258.97 L260.09,258.02 L260.40,257.07 L260.70,256.12 L261.01,255.17 L261.31,254.21 L261.62,253.26 L261.93,252.31 L262.25,251.36 L262.57,250.42 L262.90,249.47 L263.24,248.53 L263.58,247.59 L263.94,246.66 L264.32,245.73 L264.70,244.81 L265.08,243.89 L265.47,242.97 L265.87,242.05 L266.27,241.13 L266.68,240.22 L267.09,239.31 L267.51,238.40 L267.94,237.49 L268.37,236.59 L268.80,235.69 L269.26,234.80 L269.73,233.92 L270.23,233.05 L270.74,232.20 L271.28,231.35 L271.85,230.54 L272.47,229.75 L273.14,229.01 L273.84,228.29 L274.56,227.61 L275.32,226.96 L276.10,226.34 L276.91,225.75 L277.74,225.19 L278.59,224.66 L279.45,224.16 L280.34,223.69 L281.24,223.26 L282.15,222.85 L283.08,222.47 L284.01,222.12 L284.96,221.79 L285.91,221.49 L286.87,221.22 L287.84,220.97 L288.81,220.74 L289.79,220.53 L290.77,220.33 L291.75,220.13 L292.73,219.94 L293.71,219.76 L294.70,219.58 L295.68,219.41 L296.67,219.25 L297.66,219.10 L298.65,218.95 L299.64,218.81 L300.63,218.67 L301.62,218.53 L302.61,218.41 L303.61,218.31 L304.60,218.21 L305.60,218.13 L306.59,218.05 L307.59,217.98 L308.59,217.91 L309.59,217.84 L310.59,217.78 L311.58,217.72 L312.58,217.67 L313.58,217.61 L314.58,217.57 L315.58,217.52 L316.58,217.49 L317.58,217.45 L318.58,217.42 L319.58,217.40 L320.58,217.38 L321.58,217.36 L322.58,217.34 L323.58,217.32 L324.58,217.30 L325.58,217.28 L326.58,217.27 L327.57,217.25 L328.57,217.23 L329.57,217.22 L330.57,217.20 L331.57,217.19 L332.57,217.18 L333.57,217.16 L334.57,217.15 L335.57,217.14 L336.57,217.13 L337.57,217.12 L338.57,217.11 L339.57,217.10 L340.57,217.09 L341.57,217.08 L342.57,217.08 L343.57,217.07 L344.57,217.07 L345.57,217.06 L346.57,217.06 L347.57,217.05 L348.57,217.05 L349.57,217.05 L350.57,217.05 L351.57,217.04 L352.57,217.04 L353.57,217.04 L354.57,217.04 L355.57,217.04 L356.57,217.04 L357.57,217.03 L358.57,217.03 L359.57,217.03 L360.57,217.03 L361.57,217.03" stroke="#ff4040" />
<path d="M239.50,217.00 L239.91,217.89 L240.15,218.84 L240.34,219.82 L240.49,220.81 L240.60,221.81 L240.70,222.80 L240.79,223.80 L240.87,224.79 L240.95,225.79 L241.03,226.79 L241.11,227.78 L241.18,228.78 L241.25,229.78 L241.31,230.78 L241.37,231.78 L241.43,232.77 L241.49,233.77 L241.54,234.77 L241.60,235.77 L241.65,236.77 L241.71,237.77 L241.77,238.76 L241.82,239.76 L241.88,240.76 L241.94,241.76 L241.99,242.76 L242.04,243.76 L242.10,244.76 L242.15,245.75 L242.20,246.75 L242.25,247.75 L242.29,248.75 L242.34,249.75 L242.38,250.75 L242.42,251.75 L242.46,252.75 L242.50,253.75 L242.53,254.75 L242.57,255.75 L242.60,256.74 L242.64,257.74 L242.67,258.74 L242.71,259.74 L242.74,260.74 L242.78,261.74 L242.81,262.74 L242.85,263.74 L242.88,264.74 L242.92,265.74 L242.96,266.74 L242.99,267.74 L243.03,268.74 L243.06,269.74 L243.10,270.74 L243.14,271.74 L243.17,272.73 L243.21,273.73 L243.25,274.73 L243.29,275.73 L243.33,276.73 L243.37,277.73 L243.41,278.73 L243.45,279.73 L243.49,280.73 L243.53,281.73 L243.58,282.73 L243.64,283.72 L243.70,284.72 L243.77,285.72 L243.85,286.72 L243.94,287.71 L244.03,288.71 L244.13,289.70 L244.22,290.70 L244.31,291.70 L244.40,292.69 L244.49,293.69 L244.58,294.68 L244.68,295.68 L244.77,296.67 L244.86,297.67 L244.95,298.67 L245.04,299.66 L245.12,300.66 L245.21,301.66 L245.30,302.65 L245.39,303.65 L245.49,304.64 L245.59,305.64 L245.69,306.63 L245.81,307.62 L245.93,308.62 L246.05,309.61 L246.19,310.60 L246.33,311.59 L246.48,312.58 L246.65,313.56 L246.83,314.55 L247.04,315.53 L247.28,316.49 L247.58,317.38 L247.97,317.72 L248.35,317.14 L248.65,316.22 L248.92,315.25 L249.17,314.28 L249.40,313.31 L249.61,312.34 L249.82,311.36 L250.03,310.38 L250.22,309.40 L250.40,308.41 L250.57,307.43 L250.74,306.44 L250.89,305.46 L251.04,304.47 L251.18,303.48 L251.31,302.48 L251.44,301.49 L251.57,300.50 L251.70,299.51 L251.83,298.52 L251.96,297.53 L252.10,296.54 L252.23,295.54 L252.36,294.55 L252.49,293.56 L252.62,292.57 L252.75,291.58 L252.88,290.59 L253.01,289.60 L253.14,288.60 L253.27,287.61 L253.40,286.62 L253.52,285.63 L253.65,284.64 L253.78,283.65 L253.91,282.65 L254.05,281.66 L254.19,280.67 L254.33,279.68 L254.47,278.69 L254.62,277.70 L254.76,276.71 L254.90,275.72 L255.04,274.73 L255.17,273.74 L255.30,272.75 L255.43,271.76 L255.55,270.77 L255.68,269.78 L255.80,268.78 L255.94,267.79 L256.07,266.80 L256.22,265.81 L256.36,264.82 L256.52,263.83 L256.68,262.85 L256.86,261.86 L257.05,260.88 L257.27,259.91 L257.50,258.93 L257.74,257.96 L257.96,256.99 L258.18,256.01 L258.40,255.04 L258.62,254.06 L258.86,253.09 L259.11,252.12 L259.37,251.16 L259.65,250.20 L259.94,249.24 L260.24,248.29 L260.56,247.34 L260.90,246.40 L261.26,245.47 L261.63,244.54 L262.01,243.61 L262.39,242.69 L262.78,241.77 L263.17,240.85 L263.58,239.93 L264.00,239.03 L264.44,238.13 L264.90,237.24 L265.39,236.37 L265.89,235.50 L266.40,234.64 L266.93,233.80 L267.48,232.96 L268.04,232.13 L268.62,231.31 L269.22,230.52 L269.84,229.74 L270.49,228.97 L271.15,228.22 L271.82,227.48 L272.52,226.76 L273.23,226.07 L273.98,225.40 L274.76,224.77 L275.56,224.18 L276.38,223.61 L277.23,223.08 L278.09,222.58 L278.98,222.11 L279.88,221.68 L280.80,221.29 L281.73,220.92 L282.67,220.58 L283.62,220.27 L284.58,219.99 L285.54,219.73 L286.52,219.50 L287.49,219.28 L288.47,219.08 L289.45,218.89 L290.44,218.71 L291.42,218.54 L292.41,218.38 L293.40,218.23 L294.39,218.09 L295.38,217.95 L296.37,217.81 L297.36,217.69 L298.35,217.57 L299.35,217.46 L300.34,217.37 L301.34,217.29 L302.34,217.22 L303.34,217.16 L304.34,217.12 L305.34,217.08 L306.34,217.05 L307.33,217.03 L308.33,217.00 L309.33,216.98 L310.33,216.96 L311.33,216.93 L312.33,216.92 L313.33,216.90 L314.33,216.89 L315.33,216.87 L316.33,216.86 L317.33,216.86 L318.33,216.85 L319.33,216.85 L320.33,216.85 L321.33,216.85 L322.33,216.85 L323.33,216.85 L324.33,216.85 L325.33,216.85 L326.33,216.85 L327.33,216.86 L328.33,216.86 L329.33,216.86 L330.33,216.86 L331.33,216.86 L332.33,216.86 L333.33,216.87 L334.33,216.87 L335.33,216.87 L336.33,216.87 L337.33,216.87 L338.33,216.88 L339.33,216.88 L340.33,216.88 L341.33,216.88 L342.33,216.89 L343.33,216.89 L344.33,216.89 L345.33,216.89 L346.33,216.89 L347.33,216.90 L348.33,216.90 L349.33,216.90 L350.33,216.90 L351.33,216.90 L352.33,216.91 L353.33,216.91 L354.33,216.91 L355.33,216.91 L356.33,216.91 L357.33,216.92 L358.33,216.92 L359.33,216.92 L360.33,216.92 L361.33,216.92 L362.33,216.93 L363.33,216.93 L364.33,216.93 L365.33,216.93 L366.33,216.93 L367.33,216.93 L368.33,216.94 L369.33,216.94 L370.33,216.94 L371.33,216.94 L372.33,216.94 L373.33,216.95 L374.33,216.95 L375.33,216.95 L376.33,216.95 L377.33,216.95 L378.33,216.96 L379.33,216.96 L380.33,216.96 L381.33,216.96 L382.33,216.97 L383.33,216.97 L384.33,216.97 L385.33,216.97 L386.33,216.97 L387.33,216.98 L388.33,216.98 L389.33,216.98 L390.33,216.98 L391.33,216.98 L392.33,216.99 L393.33,216.99 L394.33,216.99 L395.33,216.99 L396.33,217.00 L397.31,217.00 L398.06,217.00" stroke="#4040ff" />
</g>
<line x1="239.5" y1="319.5" x2="239.5" y2="317.9" stroke="#262626" stroke-width="1"/>
<line x1="239.5" y1="196.5" x2="239.5" y2="198.1" stroke="#262626" stroke-width="1"/>
<text x="239.50" y="331.80" font-size="8.6" text-anchor="middle">0</text>
<line x1="279.5" y1="319.5" x2="279.5" y2="317.9" stroke="#262626" stroke-width="1"/>
<line x1="279.5" y1="196.5" x2="279.5" y2="198.1" stroke="#262626" stroke-width="1"/>
<text x="279.25" y="331.80" font-size="8.6" text-anchor="middle">5</text>
<line x1="318.5" y1="319.5" x2="318.5" y2="317.9" stroke="#262626" stroke-width="1"/>
<line x1="318.5" y1="196.5" x2="318.5" y2="198.1" stroke="#262626" stroke-width="1"/>
<text x="319.00" y="331.80" font-size="8.6" text-anchor="middle">10</text>
<line x1="358.5" y1="319.5" x2="358.5" y2="317.9" stroke="#262626" stroke-width="1"/>
<line x1="358.5" y1="196.5" x2="358.5" y2="198.1" stroke="#262626" stroke-width="1"/>
<text x="358.75" y="331.80" font-size="8.6" text-anchor="middle">15</text>
<line x1="398.5" y1="319.5" x2="398.5" y2="317.9" stroke="#262626" stroke-width="1"/>
<line x1="398.5" y1="196.5" x2="398.5" y2="198.1" stroke="#262626" stroke-width="1"/>
<text x="398.50" y="331.80" font-size="8.6" text-anchor="middle">20</text>
<line x1="239.5" y1="319.5" x2="241.1" y2="319.5" stroke="#262626" stroke-width="1"/>
<line x1="398.5" y1="319.5" x2="396.9" y2="319.5" stroke="#262626" stroke-width="1"/>
<text x="235.40" y="323.40" font-size="8.6" text-anchor="end">-2.5</text>
<line x1="239.5" y1="298.5" x2="241.1" y2="298.5" stroke="#262626" stroke-width="1"/>
<line x1="398.5" y1="298.5" x2="396.9" y2="298.5" stroke="#262626" stroke-width="1"/>
<text x="235.40" y="302.90" font-size="8.6" text-anchor="end">-2</text>
<line x1="239.5" y1="278.5" x2="241.1" y2="278.5" stroke="#262626" stroke-width="1"/>
<line x1="398.5" y1="278.5" x2="396.9" y2="278.5" stroke="#262626" stroke-width="1"/>
<text x="235.40" y="282.40" font-size="8.6" text-anchor="end">-1.5</text>
<line x1="239.5" y1="258.5" x2="241.1" y2="258.5" stroke="#262626" stroke-width="1"/>
<line x1="398.5" y1="258.5" x2="396.9" y2="258.5" stroke="#262626" stroke-width="1"/>
<text x="235.40" y="261.90" font-size="8.6" text-anchor="end">-1</text>
<line x1="239.5" y1="237.5" x2="241.1" y2="237.5" stroke="#262626" stroke-width="1"/>
<line x1="398.5" y1="237.5" x2="396.9" y2="237.5" stroke="#262626" stroke-width="1"/>
<text x="235.40" y="241.40" font-size="8.6" text-anchor="end">-0.5</text>
<line x1="239.5" y1="216.5" x2="241.1" y2="216.5" stroke="#262626" stroke-width="1"/>
<line x1="398.5" y1="216.5" x2="396.9" y2="216.5" stroke="#262626" stroke-width="1"/>
<text x="235.40" y="220.90" font-size="8.6" text-anchor="end">0</text>
<line x1="239.5" y1="196.5" x2="241.1" y2="196.5" stroke="#262626" stroke-width="1"/>
<line x1="398.5" y1="196.5" x2="396.9" y2="196.5" stroke="#262626" stroke-width="1"/>
<text x="235.40" y="200.40" font-size="8.6" text-anchor="end">0.5</text>
<rect x="239.5" y="196.5" width="159" height="123" fill="none" stroke="#323232" stroke-width="1.1"/>
<text transform="translate(319.00,192.40) scale(0.965,1)" font-size="10.0" font-weight="bold" text-anchor="middle" style="fill:#000;stroke:#000;stroke-width:0.2px">Error Derivative</text>
<text x="319.00" y="345.10" font-size="9.6" text-anchor="middle">Time (s)</text>
<text x="321.20" y="357.20" font-size="9.5" text-anchor="middle">(d)</text>
<text transform="translate(215.80,258.50) rotate(-90)" font-size="9.5" text-anchor="middle">Amplitude</text>
<rect x="281.5" y="246.5" width="111.6" height="35.5" fill="#fff" stroke="#323232" stroke-width="1.1"/>
<line x1="286.3" y1="253.60" x2="312.3" y2="253.60" stroke="#40ea40" stroke-width="1.2"/>
<text x="315.20" y="256.50" font-size="7.85">FPID</text>
<line x1="286.3" y1="264.50" x2="312.3" y2="264.50" stroke="#ff4040" stroke-width="1.2"/>
<text x="315.20" y="267.40" font-size="7.85">PID</text>
<line x1="286.3" y1="275.40" x2="312.3" y2="275.40" stroke="#4040ff" stroke-width="1.2"/>
<text x="315.20" y="278.30" font-size="7.85">FPID with adjustment</text>
<line x1="70.5" y1="380.0" x2="70.5" y2="502.0" stroke="#f7f7f7" stroke-width="1"/>
<line x1="110.5" y1="380.0" x2="110.5" y2="502.0" stroke="#f7f7f7" stroke-width="1"/>
<line x1="150.5" y1="380.0" x2="150.5" y2="502.0" stroke="#f7f7f7" stroke-width="1"/>
<line x1="32.0" y1="471.5" x2="189.0" y2="471.5" stroke="#f7f7f7" stroke-width="1"/>
<line x1="32.0" y1="440.5" x2="189.0" y2="440.5" stroke="#f7f7f7" stroke-width="1"/>
<line x1="32.0" y1="410.5" x2="189.0" y2="410.5" stroke="#f7f7f7" stroke-width="1"/>
<clipPath id="clipe"><rect x="31" y="379" width="159" height="124"/></clipPath>
<g clip-path="url(#clipe)" fill="none" stroke-width="1.2" stroke-linejoin="round" stroke-linecap="round">
<path d="M31.50,440.50 L31.93,439.64 L32.58,439.40 L33.08,440.03 L33.48,440.82 L33.82,441.73 L34.08,442.69 L34.29,443.67 L34.48,444.65 L34.67,445.63 L34.85,446.61 L35.05,447.59 L35.26,448.57 L35.47,449.55 L35.69,450.52 L35.91,451.50 L36.13,452.48 L36.36,453.45 L36.58,454.43 L36.80,455.40 L37.03,456.37 L37.27,457.34 L37.52,458.31 L37.79,459.27 L38.08,460.23 L38.38,461.19 L38.68,462.14 L38.98,463.09 L39.28,464.05 L39.59,465.00 L39.94,465.93 L40.35,466.84 L40.82,467.71 L41.37,468.54 L41.99,469.32 L42.69,470.02 L43.46,470.64 L44.29,471.18 L45.18,471.63 L46.10,471.99 L47.05,472.22 L48.03,472.30 L49.03,472.27 L50.02,472.18 L51.01,472.06 L52.00,471.91 L52.99,471.75 L53.97,471.58 L54.96,471.43 L55.95,471.29 L56.94,471.17 L57.94,471.05 L58.93,470.95 L59.93,470.87 L60.92,470.80 L61.92,470.74 L62.92,470.68 L63.92,470.64 L64.92,470.60 L65.92,470.56 L66.92,470.52 L67.92,470.49 L68.92,470.45 L69.92,470.42 L70.92,470.39 L71.92,470.36 L72.91,470.33 L73.91,470.30 L74.91,470.27 L75.91,470.24 L76.91,470.22 L77.91,470.19 L78.91,470.16 L79.91,470.14 L80.91,470.11 L81.91,470.09 L82.91,470.06 L83.91,470.04 L84.91,470.01 L85.91,469.98 L86.91,469.95 L87.91,469.93 L88.91,469.90 L89.91,469.87 L90.91,469.84 L91.91,469.81 L92.91,469.78 L93.91,469.75 L94.91,469.72 L95.91,469.70 L96.91,469.67 L97.91,469.65 L98.90,469.62 L99.90,469.60 L100.90,469.58 L101.90,469.56 L102.90,469.54 L103.90,469.52 L104.90,469.50 L105.90,469.48 L106.90,469.46 L107.90,469.45 L108.90,469.43 L109.90,469.41 L110.90,469.39 L111.90,469.38 L112.90,469.36 L113.90,469.35 L114.90,469.34 L115.90,469.33 L116.90,469.32 L117.90,469.31 L118.90,469.31 L119.90,469.30 L120.90,469.30 L121.90,469.29 L122.90,469.29 L123.90,469.29 L124.90,469.29 L125.90,469.28 L126.90,469.28 L127.90,469.28 L128.90,469.27 L129.90,469.27 L130.90,469.27 L131.90,469.27 L132.90,469.26 L133.90,469.26 L134.90,469.26 L135.90,469.26 L136.90,469.26 L137.90,469.25 L138.90,469.25 L139.90,469.25 L140.90,469.25 L141.90,469.24 L142.90,469.24 L143.90,469.24 L144.90,469.24 L145.90,469.24 L146.90,469.24 L147.90,469.23 L148.90,469.23 L149.90,469.23 L150.90,469.23 L151.90,469.23 L152.90,469.23 L153.90,469.22 L154.90,469.22 L155.90,469.22 L156.90,469.22 L157.90,469.22 L158.90,469.22 L159.90,469.22 L160.90,469.22 L161.90,469.21 L162.90,469.21 L163.90,469.21 L164.90,469.21 L165.90,469.21 L166.90,469.21 L167.90,469.21 L168.90,469.21 L169.90,469.21 L170.90,469.21 L171.90,469.21 L172.90,469.21 L173.90,469.20 L174.90,469.20 L175.90,469.20 L176.90,469.20 L177.90,469.20 L178.90,469.20 L179.90,469.20 L180.90,469.20 L181.90,469.20 L182.90,469.20 L183.90,469.20 L184.90,469.20 L185.90,469.20 L186.89,469.20 L187.84,469.20 L188.63,469.20 L188.93,469.20" stroke="#40ea40" />
<path d="M31.50,440.50 L31.93,439.64" stroke="#ff4040" />
<path d="M37.03,456.37 L37.27,457.34 L37.52,458.31 L37.79,459.27 L38.08,460.23" stroke="#ff4040" />
<path d="M39.28,464.05 L39.59,465.00 L39.94,465.93 L40.35,466.84" stroke="#ff4040" />
<path d="M60.92,470.80 L61.92,470.74 L62.92,470.68 L63.92,470.64 L64.92,470.60 L65.92,470.56 L66.92,470.52 L67.92,470.49 L68.92,470.45 L69.92,470.42 L70.92,470.39 L71.92,470.36 L72.91,470.33 L73.91,470.30 L74.91,470.27 L75.91,470.24 L76.91,470.22 L77.91,470.19 L78.91,470.16 L79.91,470.14 L80.91,470.11 L81.91,470.09 L82.91,470.06 L83.91,470.04 L84.91,470.01 L85.91,469.98 L86.91,469.95 L87.91,469.93 L88.91,469.90 L89.91,469.87 L90.91,469.84 L91.91,469.81 L92.91,469.78 L93.91,469.75 L94.91,469.72 L95.91,469.70 L96.91,469.67 L97.91,469.65 L98.90,469.62 L99.90,469.60 L100.90,469.58 L101.90,469.56 L102.90,469.54 L103.90,469.52 L104.90,469.50 L105.90,469.48 L106.90,469.46 L107.90,469.45 L108.90,469.43 L109.90,469.41 L110.90,469.39 L111.90,469.38 L112.90,469.36 L113.90,469.35 L114.90,469.34 L115.90,469.33 L116.90,469.32 L117.90,469.31 L118.90,469.31 L119.90,469.30 L120.90,469.30 L121.90,469.29 L122.90,469.29 L123.90,469.29 L124.90,469.29 L125.90,469.28 L126.90,469.28 L127.90,469.28 L128.90,469.27 L129.90,469.27 L130.90,469.27 L131.90,469.27 L132.90,469.26 L133.90,469.26 L134.90,469.26 L135.90,469.26 L136.90,469.26 L137.90,469.25 L138.90,469.25 L139.90,469.25 L140.90,469.25 L141.90,469.24 L142.90,469.24 L143.90,469.24 L144.90,469.24 L145.90,469.24 L146.90,469.24 L147.90,469.23 L148.90,469.23 L149.90,469.23 L150.90,469.23 L151.90,469.23 L152.90,469.23 L153.90,469.22 L154.90,469.22 L155.90,469.22 L156.90,469.22 L157.90,469.22 L158.90,469.22 L159.90,469.22 L160.90,469.22 L161.90,469.21 L162.90,469.21 L163.90,469.21 L164.90,469.21 L165.90,469.21 L166.90,469.21 L167.90,469.21 L168.90,469.21 L169.90,469.21 L170.90,469.21 L171.90,469.21 L172.90,469.21 L173.90,469.20 L174.90,469.20 L175.90,469.20 L176.90,469.20 L177.90,469.20 L178.90,469.20 L179.90,469.20 L180.90,469.20 L181.90,469.20 L182.90,469.20 L183.90,469.20 L184.90,469.20 L185.90,469.20 L186.89,469.20 L187.84,469.20 L188.63,469.20 L188.93,469.20" stroke="#ff4040" stroke-dasharray="3 7"/>
<path d="M31.50,393.50 L32.28,393.99 L32.58,394.89 L32.83,395.84 L33.03,396.82 L33.20,397.81 L33.35,398.80 L33.48,399.79 L33.60,400.78 L33.72,401.77 L33.84,402.76 L33.95,403.76 L34.06,404.75 L34.17,405.75 L34.28,406.74 L34.39,407.73 L34.49,408.73 L34.58,409.72 L34.68,410.72 L34.77,411.72 L34.86,412.71 L34.95,413.71 L35.04,414.70 L35.13,415.70 L35.23,416.69 L35.34,417.69 L35.44,418.68 L35.56,419.68 L35.67,420.67 L35.78,421.66 L35.89,422.66 L35.99,423.65 L36.08,424.65 L36.17,425.64 L36.26,426.64 L36.34,427.64 L36.41,428.64 L36.48,429.63 L36.55,430.63 L36.61,431.63 L36.68,432.63 L36.74,433.62 L36.81,434.62 L36.87,435.62 L36.94,436.62 L37.00,437.62 L37.06,438.61 L37.12,439.61 L37.18,440.61 L37.25,441.61 L37.31,442.61 L37.38,443.60 L37.45,444.60 L37.52,445.60 L37.59,446.60 L37.66,447.59 L37.74,448.59 L37.81,449.59 L37.89,450.59 L37.98,451.58 L38.06,452.58 L38.15,453.57 L38.24,454.57 L38.33,455.57 L38.43,456.56 L38.53,457.56 L38.64,458.55 L38.75,459.54 L38.87,460.54 L38.99,461.53 L39.12,462.52 L39.25,463.51 L39.40,464.50 L39.55,465.49 L39.73,466.47 L39.91,467.46 L40.10,468.44 L40.32,469.41 L40.55,470.39 L40.81,471.35 L41.10,472.31 L41.41,473.26 L41.76,474.19 L42.22,475.05 L42.85,475.71 L43.67,476.00 L44.53,475.85 L45.37,475.39 L46.16,474.79 L46.95,474.17 L47.72,473.54 L48.48,472.89 L49.24,472.24 L49.98,471.57 L50.71,470.89 L51.45,470.24 L52.28,469.70 L53.18,469.29 L54.12,468.98 L55.09,468.75 L56.08,468.60 L57.07,468.50 L58.07,468.42 L59.07,468.37 L60.07,468.33 L61.07,468.29 L62.07,468.26 L63.06,468.23 L64.06,468.20 L65.06,468.18 L66.06,468.15 L67.06,468.13 L68.06,468.12 L69.06,468.11 L70.06,468.10 L71.06,468.10 L72.06,468.10 L73.06,468.10 L74.06,468.11 L75.06,468.11 L76.06,468.12 L77.06,468.12 L78.06,468.13 L79.06,468.14 L80.06,468.15 L81.06,468.16 L82.06,468.17 L83.06,468.18 L84.06,468.19 L85.06,468.20 L86.06,468.21 L87.06,468.23 L88.06,468.25 L89.06,468.27 L90.06,468.30 L91.06,468.33 L92.06,468.36 L93.06,468.39 L94.06,468.42 L95.06,468.46 L96.06,468.49 L97.06,468.52 L98.06,468.55 L99.06,468.58" stroke="#4040ff" />
<path d="M99.06,468.58 L100.06,468.60 L101.06,468.63 L102.06,468.65 L103.06,468.67 L104.06,468.70 L105.06,468.72 L106.06,468.75 L107.06,468.77 L108.05,468.80 L109.05,468.82 L110.05,468.84 L111.05,468.87 L112.05,468.89 L113.05,468.91 L114.05,468.93 L115.05,468.94 L116.05,468.96 L117.05,468.97 L118.05,468.98 L119.05,468.99 L120.05,469.00 L121.05,469.01 L122.05,469.01 L123.05,469.02 L124.05,469.02 L125.05,469.03 L126.05,469.03 L127.05,469.04 L128.05,469.04 L129.05,469.05 L130.05,469.05 L131.05,469.06 L132.05,469.06 L133.05,469.07 L134.05,469.07 L135.05,469.08 L136.05,469.08 L137.05,469.09 L138.05,469.09 L139.05,469.10 L140.05,469.10 L141.05,469.10 L142.05,469.11 L143.05,469.11 L144.05,469.12 L145.05,469.12 L146.05,469.12 L147.05,469.13 L148.05,469.13 L149.05,469.13 L150.05,469.14 L151.05,469.14 L152.05,469.14 L153.05,469.15 L154.05,469.15 L155.05,469.15 L156.05,469.15 L157.05,469.16 L158.05,469.16 L159.05,469.16 L160.05,469.16 L161.05,469.17 L162.05,469.17 L163.05,469.17 L164.05,469.17 L165.05,469.18 L166.05,469.18 L167.05,469.18 L168.05,469.18 L169.05,469.18 L170.05,469.18 L171.05,469.19 L172.05,469.19 L173.05,469.19 L174.05,469.19 L175.05,469.19 L176.05,469.19 L177.05,469.19 L178.05,469.19 L179.05,469.20 L180.05,469.20 L181.05,469.20 L182.05,469.20 L183.05,469.20 L184.05,469.20 L185.05,469.20 L186.05,469.20 L187.05,469.20 L188.00,469.20 L188.77,469.20 L188.91,469.20" stroke="#4040ff" stroke-dasharray="3 6" stroke-dashoffset="5"/>
</g>
<line x1="31.5" y1="502.5" x2="31.5" y2="500.9" stroke="#262626" stroke-width="1"/>
<line x1="31.5" y1="379.5" x2="31.5" y2="381.1" stroke="#262626" stroke-width="1"/>
<text x="31.50" y="514.80" font-size="8.6" text-anchor="middle">0</text>
<line x1="70.5" y1="502.5" x2="70.5" y2="500.9" stroke="#262626" stroke-width="1"/>
<line x1="70.5" y1="379.5" x2="70.5" y2="381.1" stroke="#262626" stroke-width="1"/>
<text x="71.00" y="514.80" font-size="8.6" text-anchor="middle">5</text>
<line x1="110.5" y1="502.5" x2="110.5" y2="500.9" stroke="#262626" stroke-width="1"/>
<line x1="110.5" y1="379.5" x2="110.5" y2="381.1" stroke="#262626" stroke-width="1"/>
<text x="110.50" y="514.80" font-size="8.6" text-anchor="middle">10</text>
<line x1="150.5" y1="502.5" x2="150.5" y2="500.9" stroke="#262626" stroke-width="1"/>
<line x1="150.5" y1="379.5" x2="150.5" y2="381.1" stroke="#262626" stroke-width="1"/>
<text x="150.00" y="514.80" font-size="8.6" text-anchor="middle">15</text>
<line x1="189.5" y1="502.5" x2="189.5" y2="500.9" stroke="#262626" stroke-width="1"/>
<line x1="189.5" y1="379.5" x2="189.5" y2="381.1" stroke="#262626" stroke-width="1"/>
<text x="189.50" y="514.80" font-size="8.6" text-anchor="middle">20</text>
<line x1="31.5" y1="502.5" x2="33.1" y2="502.5" stroke="#262626" stroke-width="1"/>
<line x1="189.5" y1="502.5" x2="187.9" y2="502.5" stroke="#262626" stroke-width="1"/>
<text x="27.40" y="506.40" font-size="8.6" text-anchor="end">2</text>
<line x1="31.5" y1="471.5" x2="33.1" y2="471.5" stroke="#262626" stroke-width="1"/>
<line x1="189.5" y1="471.5" x2="187.9" y2="471.5" stroke="#262626" stroke-width="1"/>
<text x="27.40" y="475.65" font-size="8.6" text-anchor="end">4</text>
<line x1="31.5" y1="440.5" x2="33.1" y2="440.5" stroke="#262626" stroke-width="1"/>
<line x1="189.5" y1="440.5" x2="187.9" y2="440.5" stroke="#262626" stroke-width="1"/>
<text x="27.40" y="444.90" font-size="8.6" text-anchor="end">6</text>
<line x1="31.5" y1="410.5" x2="33.1" y2="410.5" stroke="#262626" stroke-width="1"/>
<line x1="189.5" y1="410.5" x2="187.9" y2="410.5" stroke="#262626" stroke-width="1"/>
<text x="27.40" y="414.15" font-size="8.6" text-anchor="end">8</text>
<line x1="31.5" y1="379.5" x2="33.1" y2="379.5" stroke="#262626" stroke-width="1"/>
<line x1="189.5" y1="379.5" x2="187.9" y2="379.5" stroke="#262626" stroke-width="1"/>
<text x="27.40" y="383.40" font-size="8.6" text-anchor="end">10</text>
<rect x="31.5" y="379.5" width="158" height="123" fill="none" stroke="#323232" stroke-width="1.1"/>
<text transform="translate(110.50,375.40) scale(0.965,1)" font-size="10.0" font-weight="bold" text-anchor="middle" style="fill:#000;stroke:#000;stroke-width:0.2px">Control Signal</text>
<text x="110.50" y="528.10" font-size="9.6" text-anchor="middle">Time (s)</text>
<text x="111.10" y="542.65" font-size="9.5" text-anchor="middle">(e)</text>
<text transform="translate(13.40,441.50) rotate(-90)" font-size="9.5" text-anchor="middle">Amplitude</text>
<rect x="73.5" y="389.5" width="111.6" height="35.5" fill="#fff" stroke="#323232" stroke-width="1.1"/>
<line x1="78.3" y1="396.60" x2="104.3" y2="396.60" stroke="#40ea40" stroke-width="1.2"/>
<text x="107.20" y="399.50" font-size="7.85">FPID</text>
<line x1="78.3" y1="407.50" x2="104.3" y2="407.50" stroke="#ff4040" stroke-width="1.2"/>
<text x="107.20" y="410.40" font-size="7.85">PID</text>
<line x1="78.3" y1="418.40" x2="104.3" y2="418.40" stroke="#4040ff" stroke-width="1.2"/>
<text x="107.20" y="421.30" font-size="7.85">FPID with adjustment</text>
<line x1="279.5" y1="380.0" x2="279.5" y2="502.0" stroke="#f7f7f7" stroke-width="1"/>
<line x1="318.5" y1="380.0" x2="318.5" y2="502.0" stroke="#f7f7f7" stroke-width="1"/>
<line x1="358.5" y1="380.0" x2="358.5" y2="502.0" stroke="#f7f7f7" stroke-width="1"/>
<line x1="240.0" y1="482.5" x2="398.0" y2="482.5" stroke="#f7f7f7" stroke-width="1"/>
<line x1="240.0" y1="461.5" x2="398.0" y2="461.5" stroke="#f7f7f7" stroke-width="1"/>
<line x1="240.0" y1="440.5" x2="398.0" y2="440.5" stroke="#f7f7f7" stroke-width="1"/>
<line x1="240.0" y1="420.5" x2="398.0" y2="420.5" stroke="#f7f7f7" stroke-width="1"/>
<line x1="240.0" y1="400.5" x2="398.0" y2="400.5" stroke="#f7f7f7" stroke-width="1"/>
<clipPath id="clipf"><rect x="239" y="379" width="160" height="124"/></clipPath>
<g clip-path="url(#clipf)" fill="none" stroke-width="1.2" stroke-linejoin="round" stroke-linecap="round">
<path d="M239.50,502.55 L239.67,502.54 L239.84,502.52 L240.02,502.48 L240.19,502.42 L240.36,502.34 L240.53,502.25 L240.71,502.13 L240.88,502.00 L241.05,501.85 L241.22,501.68 L241.39,501.49 L241.57,501.28 L241.74,501.05 L241.91,500.80 L242.08,500.53 L242.26,500.24 L242.43,499.93 L242.60,499.60 L242.77,499.25 L242.95,498.88 L243.12,498.49 L243.29,498.08 L243.46,497.65 L243.63,497.20 L243.81,496.74 L243.98,496.25 L244.15,495.75 L244.32,495.23 L244.50,494.69 L244.67,494.13 L244.84,493.56 L245.01,492.97 L245.18,492.36 L245.36,491.74 L245.53,491.10 L245.70,490.45 L245.87,489.78 L246.05,489.10 L246.22,488.40 L246.39,487.70 L246.56,486.97 L246.74,486.24 L246.91,485.50 L247.08,484.74 L247.25,483.98 L247.42,483.20 L247.60,482.42 L247.77,481.62 L247.94,480.82 L248.11,480.01 L248.29,479.20 L248.46,478.38 L248.63,477.55 L248.80,476.72 L248.97,475.88 L249.15,475.04 L249.32,474.20 L249.49,473.35 L249.66,472.50 L249.84,471.65 L250.01,470.80 L250.18,469.94 L250.35,469.09 L250.53,468.24 L250.70,467.39 L250.87,466.54 L251.04,465.69 L251.21,464.85 L251.39,464.01 L251.56,463.17 L251.73,462.33 L251.90,461.50 L252.08,460.68 L252.25,459.86 L252.42,459.04 L252.59,458.24 L252.76,457.43 L252.94,456.64 L253.11,455.85 L253.28,455.06 L253.45,454.29 L253.63,453.52 L253.80,452.76 L253.97,452.01 L254.14,451.27 L254.32,450.53 L254.49,449.80 L254.66,449.09 L254.83,448.38 L255.00,447.68 L255.18,446.99 L255.35,446.31 L255.52,445.63 L255.69,444.97 L255.87,444.32 L256.04,443.67 L256.21,443.04 L256.38,442.41 L256.55,441.80 L256.73,441.19 L256.90,440.59 L257.07,440.00 L257.24,439.43 L257.42,438.86 L257.59,438.30 L257.76,437.74 L257.93,437.20 L258.11,436.67 L258.28,436.14 L258.45,435.63 L258.62,435.12 L258.79,434.62 L258.97,434.13 L259.14,433.65 L259.31,433.18 L259.48,432.71 L259.66,432.25 L259.83,431.80 L260.00,431.36 L260.20,430.86 L260.70,429.63 L261.21,428.46 L261.71,427.34 L262.22,426.28 L262.72,425.26 L263.22,424.29 L263.73,423.37 L264.23,422.48 L264.73,421.62 L265.24,420.81 L265.74,420.02 L266.25,419.26 L266.75,418.54 L267.25,417.84 L267.76,417.16 L268.26,416.51 L268.76,415.88 L269.27,415.28 L269.77,414.69 L270.28,414.13 L270.78,413.59 L271.28,413.06 L271.79,412.56 L272.29,412.07 L272.79,411.60 L273.30,411.15 L273.80,410.72 L274.31,410.30 L274.81,409.90 L275.31,409.52 L275.82,409.15 L276.32,408.80 L276.83,408.46 L277.33,408.13 L277.83,407.82 L278.34,407.52 L278.84,407.24 L279.34,406.97 L279.85,406.70 L280.35,406.46 L280.86,406.22 L281.36,405.99 L281.86,405.78 L282.37,405.57 L282.87,405.37 L283.37,405.19 L283.88,405.01 L284.38,404.84 L284.89,404.68 L285.39,404.53 L285.89,404.38 L286.40,404.24 L286.90,404.11 L287.41,403.98 L287.91,403.86 L288.41,403.75 L288.92,403.64 L289.42,403.54 L289.92,403.44 L290.43,403.35 L290.93,403.26 L291.44,403.17 L291.94,403.09 L292.44,403.02 L292.95,402.94 L293.45,402.87 L293.95,402.81 L294.46,402.74 L294.96,402.68 L295.47,402.62 L295.97,402.57 L296.47,402.52 L296.98,402.46 L297.48,402.41 L297.98,402.37 L298.49,402.32 L298.99,402.28 L299.50,402.24 L300.00,402.20 L301.00,402.12 L303.50,401.95 L306.00,401.80 L308.50,401.66 L311.00,401.54 L313.50,401.43 L316.00,401.33 L318.50,401.23 L321.00,401.14 L323.50,401.05 L326.00,400.97 L328.50,400.89 L331.00,400.82 L333.50,400.76 L336.00,400.69 L338.50,400.64 L341.00,400.58 L343.50,400.53 L346.00,400.49 L348.50,400.44 L351.00,400.40" stroke="#ff4040" />
<path d="M239.50,502.55 L239.67,502.51 L239.84,502.44 L240.02,502.34 L240.19,502.22 L240.36,502.07 L240.53,501.89 L240.71,501.70 L240.88,501.48 L241.05,501.24 L241.22,500.97 L241.39,500.68 L241.57,500.37 L241.74,500.03 L241.91,499.67 L242.08,499.28 L242.26,498.86 L242.43,498.42 L242.60,497.96 L242.77,497.47 L242.95,496.95 L243.12,496.41 L243.29,495.84 L243.46,495.24 L243.63,494.62 L243.81,493.97 L243.98,493.30 L244.15,492.60 L244.32,491.88 L244.50,491.13 L244.67,490.36 L244.84,489.56 L245.01,488.75 L245.18,487.90 L245.36,487.04 L245.53,486.16 L245.70,485.25 L245.87,484.33 L246.05,483.38 L246.22,482.42 L246.39,481.44 L246.56,480.45 L246.74,479.44 L246.91,478.42 L247.08,477.38 L247.25,476.33 L247.42,475.27 L247.60,474.21 L247.77,473.13 L247.94,472.05 L248.11,470.97 L248.29,469.87 L248.46,468.78 L248.63,467.68 L248.80,466.59 L248.97,465.49 L249.15,464.40 L249.32,463.31 L249.49,462.22 L249.66,461.14 L249.84,460.07 L250.01,459.00 L250.18,457.95 L250.35,456.90 L250.53,455.86 L250.70,454.84 L250.87,453.82 L251.04,452.82 L251.21,451.84 L251.39,450.87 L251.56,449.91 L251.73,448.97 L251.90,448.05 L252.08,447.14 L252.25,446.25 L252.42,445.38 L252.59,444.52 L252.76,443.69 L252.94,442.87 L253.11,442.07 L253.28,441.29 L253.45,440.52 L253.63,439.78 L253.80,439.05 L253.97,438.35 L254.14,437.66 L254.32,436.98 L254.49,436.33 L254.66,435.69 L254.83,435.07 L255.00,434.46 L255.18,433.88 L255.35,433.30 L255.52,432.75 L255.69,432.20 L255.87,431.68 L256.04,431.16 L256.21,430.66 L256.38,430.18 L256.55,429.70 L256.73,429.24 L256.90,428.79 L257.07,428.35 L257.24,427.92 L257.42,427.50 L257.59,427.10 L257.76,426.70 L257.93,426.31 L258.11,425.93 L258.28,425.56 L258.45,425.19 L258.62,424.84 L258.79,424.49 L258.97,424.14 L259.14,423.81 L259.31,423.48 L259.48,423.15 L259.66,422.83 L259.83,422.52 L260.00,422.21 L260.20,421.86 L260.70,421.00 L261.21,420.18 L261.71,419.38 L262.22,418.62 L262.72,417.88 L263.22,417.16 L263.73,416.47 L264.23,415.80 L264.73,415.14 L265.24,414.51 L265.74,413.90 L266.25,413.30 L266.75,412.73 L267.25,412.17 L267.76,411.63 L268.26,411.11 L268.76,410.61 L269.27,410.12 L269.77,409.65 L270.28,409.19 L270.78,408.75 L271.28,408.33 L271.79,407.92 L272.29,407.53 L272.79,407.15 L273.30,406.79 L273.80,406.44 L274.31,406.10 L274.81,405.78 L275.31,405.47 L275.82,405.17 L276.32,404.89 L276.83,404.61 L277.33,404.35 L277.83,404.10 L278.34,403.86 L278.84,403.63 L279.34,403.41 L279.85,403.20 L280.35,403.00 L280.86,402.81 L281.36,402.63 L281.86,402.45 L282.37,402.29 L282.87,402.13 L283.37,401.98 L283.88,401.83 L284.38,401.70 L284.89,401.57 L285.39,401.45 L285.89,401.33 L286.40,401.22 L286.90,401.11 L287.41,401.01 L287.91,400.92 L288.41,400.83 L288.92,400.75 L289.42,400.67 L289.92,400.59 L290.43,400.52 L290.93,400.45 L291.44,400.39 L291.94,400.33 L292.44,400.27 L292.95,400.22 L293.45,400.17 L293.95,400.12 L294.46,400.08 L294.96,400.04 L295.47,400.00 L295.97,399.96 L296.47,399.93 L296.98,399.90 L297.48,399.87 L297.98,399.84 L298.49,399.82 L298.99,399.79 L299.50,399.77 L300.00,399.75 L301.00,399.72 L303.50,399.65 L306.00,399.61 L308.50,399.59 L311.00,399.59 L313.50,399.59 L316.00,399.60 L318.50,399.62 L321.00,399.64 L323.50,399.66 L326.00,399.68 L328.50,399.70 L331.00,399.72 L333.50,399.74 L336.00,399.76 L338.50,399.78 L341.00,399.80 L343.50,399.81 L346.00,399.83 L348.50,399.84 L351.00,399.86 L353.50,399.87 L356.00,399.88 L358.50,399.89 L361.00,399.90 L363.50,399.91 L366.00,399.92 L368.50,399.92 L371.00,399.93 L373.50,399.94 L376.00,399.94 L378.50,399.95 L381.00,399.95 L383.50,399.96 L386.00,399.96 L388.50,399.97 L391.00,399.97 L393.50,399.97 L396.00,399.97 L398.50,399.98" stroke="#4040ff" />
</g>
<line x1="239.5" y1="502.5" x2="239.5" y2="500.9" stroke="#262626" stroke-width="1"/>
<line x1="239.5" y1="379.5" x2="239.5" y2="381.1" stroke="#262626" stroke-width="1"/>
<text x="239.50" y="514.80" font-size="8.6" text-anchor="middle">0</text>
<line x1="279.5" y1="502.5" x2="279.5" y2="500.9" stroke="#262626" stroke-width="1"/>
<line x1="279.5" y1="379.5" x2="279.5" y2="381.1" stroke="#262626" stroke-width="1"/>
<text x="279.25" y="514.80" font-size="8.6" text-anchor="middle">5</text>
<line x1="318.5" y1="502.5" x2="318.5" y2="500.9" stroke="#262626" stroke-width="1"/>
<line x1="318.5" y1="379.5" x2="318.5" y2="381.1" stroke="#262626" stroke-width="1"/>
<text x="319.00" y="514.80" font-size="8.6" text-anchor="middle">10</text>
<line x1="358.5" y1="502.5" x2="358.5" y2="500.9" stroke="#262626" stroke-width="1"/>
<line x1="358.5" y1="379.5" x2="358.5" y2="381.1" stroke="#262626" stroke-width="1"/>
<text x="358.75" y="514.80" font-size="8.6" text-anchor="middle">15</text>
<line x1="398.5" y1="502.5" x2="398.5" y2="500.9" stroke="#262626" stroke-width="1"/>
<line x1="398.5" y1="379.5" x2="398.5" y2="381.1" stroke="#262626" stroke-width="1"/>
<text x="398.50" y="514.80" font-size="8.6" text-anchor="middle">20</text>
<line x1="239.5" y1="502.5" x2="241.1" y2="502.5" stroke="#262626" stroke-width="1"/>
<line x1="398.5" y1="502.5" x2="396.9" y2="502.5" stroke="#262626" stroke-width="1"/>
<text x="235.40" y="506.40" font-size="8.6" text-anchor="end">0</text>
<line x1="239.5" y1="482.5" x2="241.1" y2="482.5" stroke="#262626" stroke-width="1"/>
<line x1="398.5" y1="482.5" x2="396.9" y2="482.5" stroke="#262626" stroke-width="1"/>
<text x="235.40" y="485.90" font-size="8.6" text-anchor="end">1</text>
<line x1="239.5" y1="461.5" x2="241.1" y2="461.5" stroke="#262626" stroke-width="1"/>
<line x1="398.5" y1="461.5" x2="396.9" y2="461.5" stroke="#262626" stroke-width="1"/>
<text x="235.40" y="465.40" font-size="8.6" text-anchor="end">2</text>
<line x1="239.5" y1="440.5" x2="241.1" y2="440.5" stroke="#262626" stroke-width="1"/>
<line x1="398.5" y1="440.5" x2="396.9" y2="440.5" stroke="#262626" stroke-width="1"/>
<text x="235.40" y="444.90" font-size="8.6" text-anchor="end">3</text>
<line x1="239.5" y1="420.5" x2="241.1" y2="420.5" stroke="#262626" stroke-width="1"/>
<line x1="398.5" y1="420.5" x2="396.9" y2="420.5" stroke="#262626" stroke-width="1"/>
<text x="235.40" y="424.40" font-size="8.6" text-anchor="end">4</text>
<line x1="239.5" y1="400.5" x2="241.1" y2="400.5" stroke="#262626" stroke-width="1"/>
<line x1="398.5" y1="400.5" x2="396.9" y2="400.5" stroke="#262626" stroke-width="1"/>
<text x="235.40" y="403.90" font-size="8.6" text-anchor="end">5</text>
<line x1="239.5" y1="379.5" x2="241.1" y2="379.5" stroke="#262626" stroke-width="1"/>
<line x1="398.5" y1="379.5" x2="396.9" y2="379.5" stroke="#262626" stroke-width="1"/>
<text x="235.40" y="383.40" font-size="8.6" text-anchor="end">6</text>
<rect x="239.5" y="379.5" width="159" height="123" fill="none" stroke="#323232" stroke-width="1.1"/>
<text transform="translate(319.00,375.40) scale(0.965,1)" font-size="10.0" font-weight="bold" text-anchor="middle" style="fill:#000;stroke:#000;stroke-width:0.2px">System Output</text>
<text x="319.00" y="528.10" font-size="9.6" text-anchor="middle">Time (s)</text>
<text x="319.30" y="542.90" font-size="9.5" text-anchor="middle">(f)</text>
<text transform="translate(226.00,441.50) rotate(-90)" font-size="9.5" text-anchor="middle">Amplitude</text>
<rect x="281.5" y="420.0" width="111.6" height="35.5" fill="#fff" stroke="#323232" stroke-width="1.1"/>
<line x1="286.3" y1="427.10" x2="312.3" y2="427.10" stroke="#40ea40" stroke-width="1.2"/>
<text x="315.20" y="430.00" font-size="7.85">FPID</text>
<line x1="286.3" y1="438.00" x2="312.3" y2="438.00" stroke="#ff4040" stroke-width="1.2"/>
<text x="315.20" y="440.90" font-size="7.85">PID</text>
<line x1="286.3" y1="448.90" x2="312.3" y2="448.90" stroke="#4040ff" stroke-width="1.2"/>
<text x="315.20" y="451.80" font-size="7.85">FPID with adjustment</text>
</g></svg></div></body></html>
